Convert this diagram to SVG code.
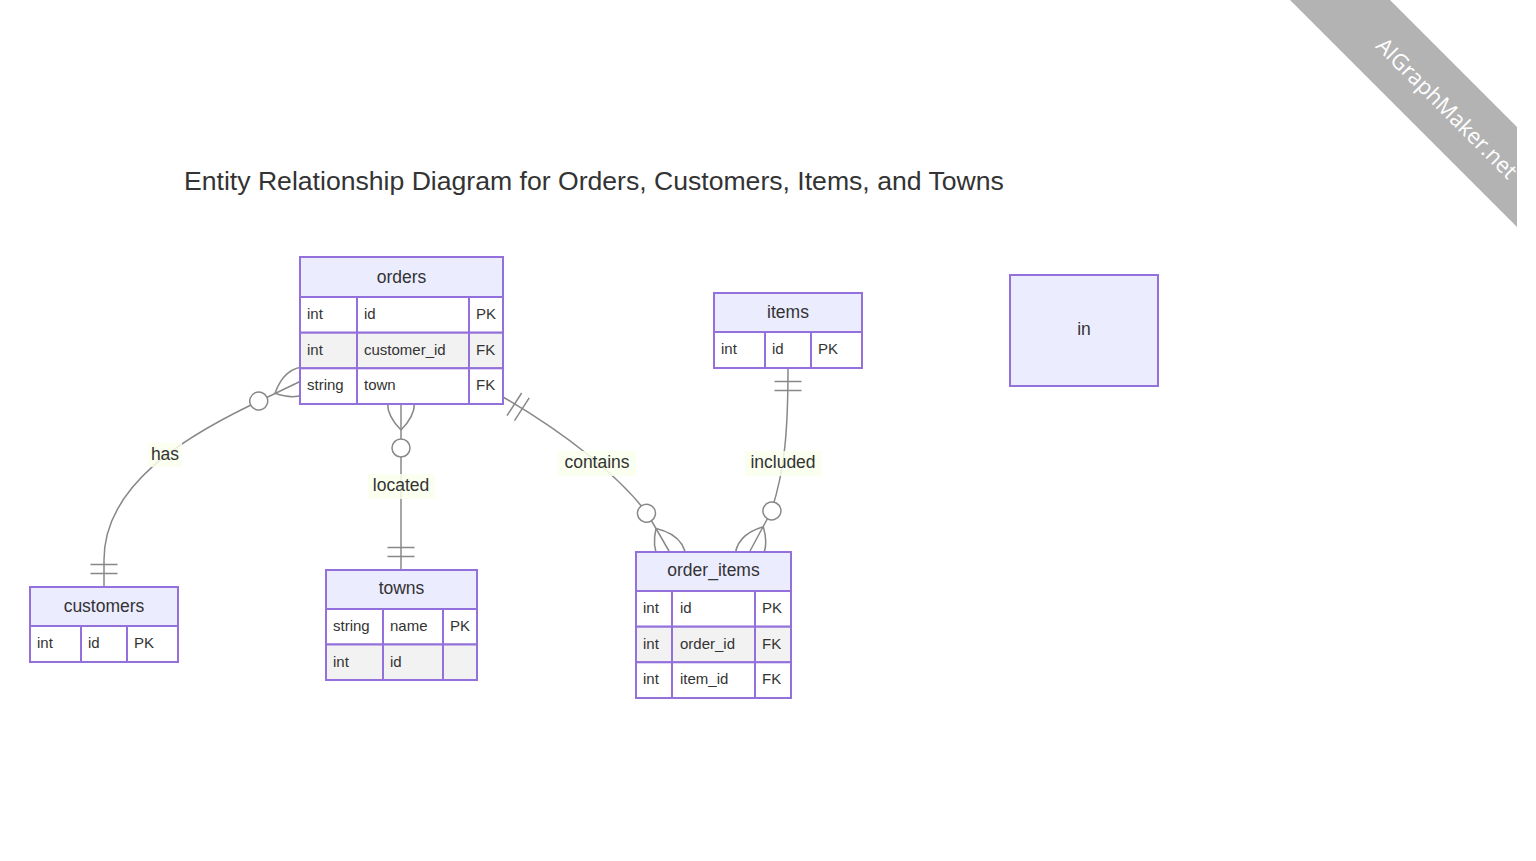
<svg xmlns="http://www.w3.org/2000/svg" width="1536" height="861" viewBox="0 0 1536 861">
<style>
.bg{fill:#ffffff}
.title{font-family:"Liberation Sans",Arial,sans-serif;font-size:26.6px;fill:#333}
.hdr{fill:#ECECFF;stroke:#9370DB;stroke-width:2}
.row{fill:#ffffff;stroke:#9370DB;stroke-width:2}
.row2{fill:#f2f2f2;stroke:#9370DB;stroke-width:2}
.sep{stroke:#9370DB;stroke-width:2;fill:none}
.ht{font-family:"Liberation Sans",Arial,sans-serif;font-size:17.5px;fill:#333;text-anchor:middle}
.rt{font-family:"Liberation Sans",Arial,sans-serif;font-size:15px;fill:#333}
.edge{fill:none;stroke:#888;stroke-width:1.5}
.mk{fill:none;stroke:#888;stroke-width:1.5}
.mc{fill:#fff;stroke:#888;stroke-width:1.5}
.lbg{fill:hsl(80,100%,96.27%);opacity:0.85}
.lt{font-family:"Liberation Sans",Arial,sans-serif;font-size:17.5px;fill:#333;text-anchor:middle}
.wm{font-family:"Open Sans","Noto Sans",sans-serif;font-size:22px;fill:#fff;text-anchor:middle}
</style>
<defs>
<clipPath id="vis"><rect x="0" y="0" width="1517" height="861"/></clipPath>
</defs>
<rect class="bg" x="0" y="0" width="1536" height="861"/>
<text class="title" x="184" y="190">Entity Relationship Diagram for Orders, Customers, Items, and Towns</text>

<g id="connectors">
  <g id="edge-has">
    <path class="edge" d="M300,381.5 L251,405 C185,437 104,485 104,560 L104,587"/>
    <g transform="translate(275,393.3) rotate(-25.3)"><path class="mk" d="M0,0 Q27,-27 54,0 Q27,27 0,0"/><circle class="mc" cx="-18" cy="0" r="9"/></g>
    <g transform="translate(104,587) rotate(-90)"><path class="mk" d="M13.5,-13.5 V13.5 M22.5,-13.5 V13.5"/></g>
    <rect class="lbg" x="148" y="443" width="34" height="24"/>
    <text class="lt" x="165" y="460">has</text>
  </g>
  <g id="edge-located">
    <path class="edge" d="M401,404 L401,570"/>
    <g transform="translate(401,430) rotate(-90)"><path class="mk" d="M0,0 Q27,-27 54,0 Q27,27 0,0"/><circle class="mc" cx="-18" cy="0" r="9"/></g>
    <g transform="translate(401,570) rotate(-90)"><path class="mk" d="M13.5,-13.5 V13.5 M22.5,-13.5 V13.5"/></g>
    <rect class="lbg" x="368" y="474" width="67" height="25"/>
    <text class="lt" x="401" y="491">located</text>
  </g>
  <g id="edge-contains">
    <path class="edge" d="M503,397 C565,433 618,475 647,513 L669,551"/>
    <g transform="translate(656,528.5) rotate(58)"><path class="mk" d="M0,0 Q27,-27 54,0 Q27,27 0,0"/><circle class="mc" cx="-18" cy="0" r="9"/></g>
    <g transform="translate(503,397) rotate(33)"><path class="mk" d="M13.5,-13.5 V13.5 M22.5,-13.5 V13.5"/></g>
    <rect class="lbg" x="558" y="451" width="78" height="25"/>
    <text class="lt" x="597" y="468">contains</text>
  </g>
  <g id="edge-included">
    <path class="edge" d="M788,368 C788,430 785,470 771,512 L750,551"/>
    <g transform="translate(763.3,526.7) rotate(118.7)"><path class="mk" d="M0,0 Q27,-27 54,0 Q27,27 0,0"/><circle class="mc" cx="-18" cy="0" r="9"/></g>
    <g transform="translate(788,368) rotate(90)"><path class="mk" d="M13.5,-13.5 V13.5 M22.5,-13.5 V13.5"/></g>
    <rect class="lbg" x="745" y="451" width="77" height="25"/>
    <text class="lt" x="783" y="468">included</text>
  </g>
</g>

<g id="orders">
  <rect class="hdr" x="300" y="257" width="203" height="40"/>
  <text class="ht" x="401.5" y="282.5">orders</text>
  <rect class="row" x="300" y="297" width="203" height="35.7"/>
  <rect class="row2" x="300" y="332.7" width="203" height="35.6"/>
  <rect class="row" x="300" y="368.3" width="203" height="35.7"/>
  <path class="sep" d="M357,297 V404 M469,297 V404"/>
  <text class="rt" x="307" y="319">int</text><text class="rt" x="364" y="319">id</text><text class="rt" x="476" y="319">PK</text>
  <text class="rt" x="307" y="354.5">int</text><text class="rt" x="364" y="354.5">customer_id</text><text class="rt" x="476" y="354.5">FK</text>
  <text class="rt" x="307" y="390">string</text><text class="rt" x="364" y="390">town</text><text class="rt" x="476" y="390">FK</text>
</g>

<g id="items">
  <rect class="hdr" x="714" y="293" width="148" height="39"/>
  <text class="ht" x="788" y="317.5">items</text>
  <rect class="row" x="714" y="332" width="148" height="36"/>
  <path class="sep" d="M765,332 V368 M811,332 V368"/>
  <text class="rt" x="721" y="354">int</text><text class="rt" x="772" y="354">id</text><text class="rt" x="818" y="354">PK</text>
</g>

<g id="in">
  <rect class="hdr" x="1010" y="275" width="148" height="111"/>
  <text class="ht" x="1084" y="335">in</text>
</g>

<g id="customers">
  <rect class="hdr" x="30" y="587" width="148" height="39"/>
  <text class="ht" x="104" y="611.5">customers</text>
  <rect class="row" x="30" y="626" width="148" height="36"/>
  <path class="sep" d="M81,626 V662 M127,626 V662"/>
  <text class="rt" x="37" y="648">int</text><text class="rt" x="88" y="648">id</text><text class="rt" x="134" y="648">PK</text>
</g>

<g id="towns">
  <rect class="hdr" x="326" y="570" width="151" height="39"/>
  <text class="ht" x="401.5" y="593.5">towns</text>
  <rect class="row" x="326" y="609" width="151" height="35.5"/>
  <rect class="row2" x="326" y="644.5" width="151" height="35.5"/>
  <path class="sep" d="M383,609 V680 M443,609 V680"/>
  <text class="rt" x="333" y="631">string</text><text class="rt" x="390" y="631">name</text><text class="rt" x="450" y="631">PK</text>
  <text class="rt" x="333" y="666.5">int</text><text class="rt" x="390" y="666.5">id</text>
</g>

<g id="order_items">
  <rect class="hdr" x="636" y="552" width="155" height="39"/>
  <text class="ht" x="713.5" y="575.5">order_items</text>
  <rect class="row" x="636" y="591" width="155" height="35.7"/>
  <rect class="row2" x="636" y="626.7" width="155" height="35.6"/>
  <rect class="row" x="636" y="662.3" width="155" height="35.7"/>
  <path class="sep" d="M672,591 V698 M755,591 V698"/>
  <text class="rt" x="643" y="613">int</text><text class="rt" x="680" y="613">id</text><text class="rt" x="762" y="613">PK</text>
  <text class="rt" x="643" y="648.5">int</text><text class="rt" x="680" y="648.5">order_id</text><text class="rt" x="762" y="648.5">FK</text>
  <text class="rt" x="643" y="684">int</text><text class="rt" x="680" y="684">item_id</text><text class="rt" x="762" y="684">FK</text>
</g>

<g id="watermark" clip-path="url(#vis)">
  <polygon points="1290,0 1390,0 1517,127 1517,227" fill="#b3b3b3"/>
  <text class="wm" transform="translate(1447,108) rotate(45)" x="0" y="8">AIGraphMaker.net</text>
</g>
</svg>
